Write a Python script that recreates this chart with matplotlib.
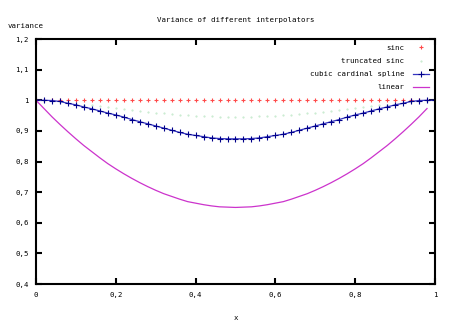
import matplotlib
matplotlib.use("Agg")
import matplotlib.pyplot as plt
import numpy as np
from matplotlib.ticker import FuncFormatter

# sample positions (step 0.02)
x = np.linspace(0, 1, 51)

sinc = [1.0] * 51

trunc_sinc = [1.000, 0.999, 0.997, 0.995, 0.992, 0.989, 0.986, 0.983, 0.980, 0.978,
              0.975, 0.972, 0.968, 0.965, 0.962, 0.959, 0.957, 0.955, 0.953, 0.951,
              0.949, 0.948, 0.947, 0.946, 0.945, 0.945, 0.945, 0.946, 0.947, 0.948,
              0.949, 0.951, 0.953, 0.955, 0.957, 0.959, 0.962, 0.965, 0.968, 0.972,
              0.975, 0.978, 0.980, 0.983, 0.986, 0.989, 0.992, 0.995, 0.997, 0.999,
              1.000]

spline = [1.000, 1.000, 0.999, 0.996, 0.990, 0.985, 0.978, 0.972, 0.965, 0.958,
          0.952, 0.945, 0.937, 0.930, 0.923, 0.916, 0.909, 0.902, 0.895, 0.889,
          0.885, 0.881, 0.877, 0.875, 0.874, 0.874, 0.874, 0.875, 0.877, 0.881,
          0.885, 0.889, 0.895, 0.902, 0.909, 0.916, 0.923, 0.930, 0.937, 0.945,
          0.952, 0.958, 0.965, 0.972, 0.978, 0.985, 0.990, 0.996, 0.999, 1.000,
          1.000]

x_lin = x[:50]
linear = [1.000, 0.973, 0.946, 0.921, 0.897, 0.874, 0.852, 0.832, 0.812, 0.793,
          0.776, 0.760, 0.745, 0.731, 0.718, 0.706, 0.695, 0.686, 0.677, 0.669,
          0.664, 0.659, 0.655, 0.652, 0.651, 0.650, 0.651, 0.652, 0.655, 0.659,
          0.664, 0.669, 0.677, 0.686, 0.695, 0.706, 0.718, 0.731, 0.745, 0.760,
          0.776, 0.793, 0.812, 0.832, 0.852, 0.874, 0.897, 0.921, 0.946, 0.973]

plt.rcParams['font.family'] = ['DejaVu Sans Mono']
fs = 5.3

fig = plt.figure(figsize=(4.53, 3.22), dpi=100)
ax = fig.add_axes([36/453, 1 - 284/322, 399/453, 245/322])

ax.plot(x, sinc, linestyle='none', marker='+', markersize=3.2, mew=0.8,
        color='#ff4a4a', label='sinc')
ax.plot(x, trunc_sinc, linestyle='none', marker='.', markersize=1.0,
        color='#c0e8c8', label='truncated sinc')
ax.plot(x, spline, color='#3535c0', lw=0.9, marker='+', markersize=4, mew=0.8,
        markeredgecolor='#00008a', label='cubic cardinal spline')
ax.plot(x_lin, linear, color='#cc33cc', lw=0.9, label='linear')

ax.set_xlim(0, 1)
ax.set_ylim(0.4, 1.2)
ax.set_xticks(np.arange(0, 1.01, 0.2))
ax.set_yticks(np.arange(0.4, 1.21, 0.1))
fmt = FuncFormatter(lambda v, p: ('%g' % round(v, 2)).replace('.', ','))
ax.xaxis.set_major_formatter(fmt)
ax.yaxis.set_major_formatter(fmt)
ax.tick_params(direction='in', length=4, width=1.5, labelsize=fs,
               top=True, right=True, pad=6, colors='black')
ax.tick_params(axis='y', pad=5)
for s in ax.spines.values():
    s.set_linewidth(1.5)

ax.set_title('Variance of different interpolators', fontsize=fs, pad=12.5)
fig.text(8/453, 1 - 26/322, 'variance', fontsize=fs, va='center', ha='left')
ax.set_xlabel('x', fontsize=fs, labelpad=12)

leg = ax.legend(loc='upper right', frameon=False, fontsize=fs, markerfirst=False,
                handlelength=2.2, labelspacing=0.95, borderaxespad=0.4,
                handletextpad=1.2)
for t in leg.get_texts():
    t.set_ha('right')

fig.savefig('out.png', dpi=100)
